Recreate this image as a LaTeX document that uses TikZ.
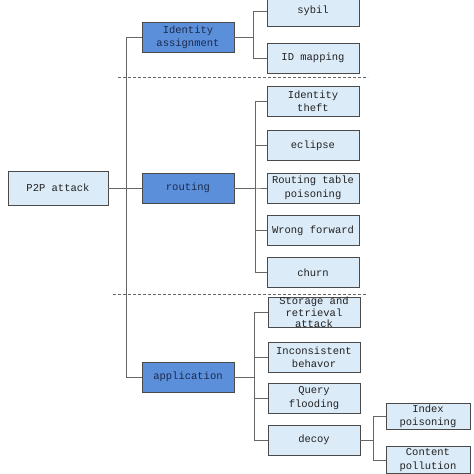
\documentclass[tikz,border=0pt]{standalone}
\usepackage{fontspec}
\usetikzlibrary{positioning}
\newfontfamily\boxfont{Liberation Mono}
\definecolor{catblue}{HTML}{5B8FD9}
\definecolor{leafblue}{HTML}{DCEBF8}
\definecolor{edgegray}{HTML}{4A4A4A}
\definecolor{linkgray}{HTML}{666666}
\definecolor{navy}{HTML}{1A2A50}
\definecolor{inkgray}{HTML}{222222}

\tikzset{
  box/.style={draw=edgegray, line width=0.9pt, inner sep=0pt, align=center, text=inkgray,
    font=\boxfont\fontsize{10.5}{13.5}\selectfont},
  rootbox/.style={box, fill=leafblue, minimum width=100, minimum height=34},
  catbox/.style={box, fill=catblue, text=navy, minimum width=92, minimum height=30},
  leafbox/.style={box, fill=leafblue, minimum width=92, minimum height=30},
  subleaf/.style={box, fill=leafblue, minimum width=84, minimum height=26},
  link/.style={draw=linkgray, line width=0.9pt},
  sep/.style={draw=linkgray, line width=0.6pt, dash pattern=on 3pt off 2pt}
}

\begin{document}
\begin{tikzpicture}[x=1pt, y=-1pt]
\useasboundingbox (0,0) rectangle (474,474);

% root and categories
\node[rootbox] (p2p) at (58,188) {P2P attack};
\node[catbox] (ident) at (188,37.5) {Identity\\assignment};
\node[catbox] (routing) at (188,188) {routing};
\node[catbox] (app) at (188,377) {application};

% identity leaves
\node[leafbox] (sybil) at (313,11) {sybil};
\node[leafbox] (idmap) at (313,58) {ID mapping};

% routing leaves
\node[leafbox] (theft) at (313,101) {Identity\\theft};
\node[leafbox] (eclipse) at (313,145.5) {eclipse};
\node[leafbox] (rtp) at (313,188) {Routing table\\poisoning};
\node[leafbox] (wrong) at (313,230.5) {Wrong forward};
\node[leafbox] (churn) at (313,272.5) {churn};

% application leaves
\node[leafbox, font=\boxfont\fontsize{10.5}{11.5}\selectfont] (storage) at (314,312.5) {Storage and\\retrieval\\attack};
\node[leafbox] (incons) at (314,357) {Inconsistent\\behavor};
\node[leafbox] (query) at (314,398) {Query\\flooding};
\node[leafbox] (decoy) at (314,440) {decoy};
\node[subleaf] (index) at (428,416.5) {Index\\poisoning};
\node[subleaf, minimum height=27] (content) at (428,460) {Content\\pollution};

% connectors
\draw[link] (p2p.east) -- (routing.west);
\draw[link] (p2p.east) -- ++(18,0) |- (ident.west);
\draw[link] (p2p.east) -- ++(18,0) |- (app.west);

\draw[link] (ident.east) -- ++(19,0) |- (sybil.west);
\draw[link] (ident.east) -- ++(19,0) |- (idmap.west);

\foreach \leaf in {theft,eclipse,rtp,wrong,churn}
  \draw[link] (routing.east) -- ++(21,0) |- (\leaf.west);

\foreach \leaf in {storage,incons,query,decoy}
  \draw[link] (app.east) -- ++(20,0) |- (\leaf.west);

\draw[link] (decoy.east) -- ++(13,0) |- (index.west);
\draw[link] (decoy.east) -- ++(13,0) |- (content.west);

% section separators
\draw[sep] (118,77) -- (368,77);
\draw[sep] (113,294) -- (367,294);
\end{tikzpicture}
\end{document}
